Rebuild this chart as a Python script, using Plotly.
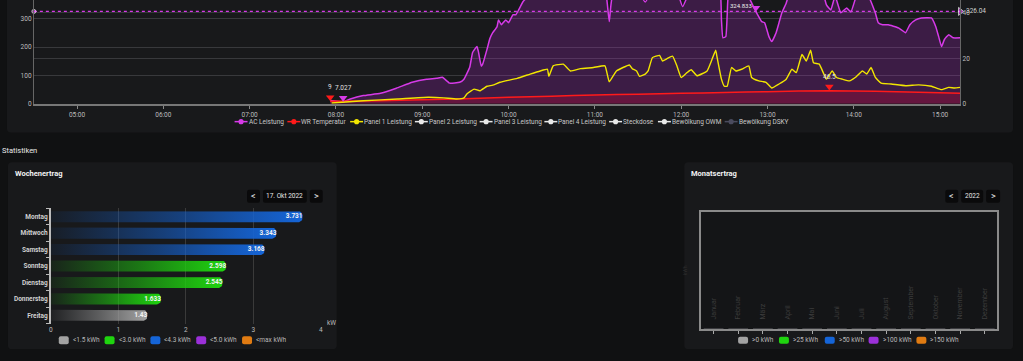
import numpy as np
import plotly.graph_objects as go

W, H = 1023, 361
def X(px): return px / W
def Y(py): return 1 - py / H

FONT = "Roboto, Open Sans, sans-serif"
DAY = "2022-10-17 "
X_START, X_END = "04:30", "15:14"

# ---------------- top chart data ----------------
ac_times = ["07:56","08:05","08:10","08:19","08:31","08:42","08:53","09:03","09:10","09:14",
            "09:19","09:26","09:29","09:33","09:35","09:38","09:39","09:41","09:42","09:45",
            "09:47","09:49","09:52","09:53","09:55","09:58","10:00","10:03","10:05","10:07",
            "10:10","10:20","10:35","10:50","11:05","11:08","11:10","11:12","11:25","11:35",
            "11:45","11:55","12:01","12:08","12:18","12:27","12:28","12:29","12:31","12:32",
            "12:33","12:42","12:52","12:56","12:58","13:01","13:03","13:06","13:08","13:10",
            "13:13","13:15","13:28","13:38","13:41","13:44","13:47","13:51","13:55","13:58",
            "14:03","14:10","14:15","14:17","14:20","14:24","14:31","14:36","14:39","14:43",
            "14:47","14:54","14:57","14:59","15:01","15:03","15:06","15:09","15:14"]
ac_values = [12, 7.027, 17, 29, 37, 55, 76, 87, 90, 94,
             73, 76, 87, 129, 181, 202, 185, 133, 140, 192,
             230, 251, 272, 296, 279, 296, 286, 314, 314, 331,
             360, 410, 430, 445, 420, 380, 290, 375, 440, 359,
             450, 430, 343, 420, 440, 400, 296, 233, 237, 314,
             390, 420, 324.833, 290, 286, 237, 220, 251, 286, 321,
             355, 385, 440, 400, 349, 331, 380, 321, 338, 324,
             395, 380, 320, 286, 279, 279, 268, 251, 279, 296,
             303, 303, 272, 237, 202, 227, 244, 233, 233]

p1_times = ["07:57","08:19","08:43","09:04","09:15","09:24","09:29","09:31","09:36","09:40",
            "09:45","09:49","09:54","10:06","10:15","10:22","10:27","10:28","10:31","10:38",
            "10:43","10:50","10:59","11:07","11:10","11:15","11:24","11:26","11:29","11:31",
            "11:35","11:37","11:40","11:45","11:47","11:50","11:54","11:57","12:00","12:04",
            "12:07","12:11","12:18","12:21","12:24","12:25","12:28","12:30","12:32","12:35",
            "12:38","12:42","12:47","12:49","12:54","12:59","13:03","13:08","13:13","13:17",
            "13:20","13:24","13:27","13:30","13:32","13:36","13:41","13:45","13:48","13:52",
            "13:57","14:01","14:06","14:09","14:12","14:15","14:19","14:26","14:36","14:45",
            "14:54","15:01","15:06","15:10","15:14"]
p1_values = [3, 11, 17, 23, 21, 17, 21, 35, 52, 46,
             62, 66, 76, 90, 105, 116, 122, 97, 134, 140,
             116, 124, 128, 134, 78, 116, 137, 124, 116, 97,
             105, 116, 163, 171, 151, 159, 168, 134, 93, 110,
             120, 99, 116, 151, 189, 163, 87, 62, 62, 128,
             116, 122, 134, 93, 81, 76, 56, 70, 87, 122,
             110, 174, 151, 189, 145, 140, 87, 116, 93, 87,
             81, 93, 116, 105, 128, 93, 73, 70, 64, 67,
             62, 50, 58, 56, 58]

temp_times = ["07:56","08:30","09:00","09:30","10:00","10:30","11:00","11:30",
              "12:00","12:30","13:00","13:43","14:15","14:45","15:14"]
temp_values = [9, 11, 14, 18, 23, 27, 31, 34, 37, 40, 43, 46.5, 44, 41, 37]

ac_average = 326.04
mark_times = ["07:56", "08:05", "12:52", "13:43"]
mark_values = [9, 7.027, 324.833, 46.5]
mark_labels = ["9", "7.027", "324.833", "46.5"]
mark_series = ["temp", "ac", "ac", "temp"]

top_legend_names = ["AC Leistung", "WR Temperatur", "Panel 1 Leistung", "Panel 2 Leistung",
                    "Panel 3 Leistung", "Panel 4 Leistung", "Steckdose", "Bewölkung OWM",
                    "Bewölkung DSKY"]

# ---------------- weekly chart data ----------------
week_days = ["Montag", "Mittwoch", "Samstag", "Sonntag", "Dienstag", "Donnerstag", "Freitag"]
week_kwh = [3.731, 3.343, 3.168, 2.598, 2.545, 1.633, 1.43]
week_date_label = "17. Okt 2022"
week_thresholds = [1.5, 3.0, 4.3, 5.0]
week_legend = ["<1.5 kWh", "<3.0 kWh", "<4.3 kWh", "<5.0 kWh", "<max kWh"]

# ---------------- monthly chart data ----------------
months = ["Januar", "Februar", "März", "April", "Mai", "Juni", "Juli", "August",
          "September", "Oktober", "November", "Dezember"]
month_kwh = [0, 0, 0, 0, 0, 0, 0, 0, 0, 0, 0, 0]
year_label = "2022"
month_legend = [">0 kWh", ">25 kWh", ">50 kWh", ">100 kWh", ">150 kWh"]

# ---------------- styles ----------------
PAGE_BG = "#101112"
PANEL_BG = "#18191b"
GRID = "#38393c"
C_AC = "#d63ae8"
C_TEMP = "#ff1a1a"
C_P1 = "#f2e600"
top_legend_colors = [C_AC, C_TEMP, C_P1, "#e8e8e8", "#e8e8e8", "#e8e8e8", "#e8e8e8",
                     "#e8e8e8", "#4a4b5e"]
level_colors = ["#a3a3a3", "#1fd40f", "#1565d8", "#9b30d9", "#e07b12"]
PAD = 3  # annotation inner padding in px

# top chart geometry
TOP_PLOT_PX = (32, 962, 0, 105)      # left, right, top, bottom (px)
Y_LEFT_PER_PX = 0.2867               # px per unit on the left axis
Y_RIGHT_PER_PX = 2.3                 # px per unit on the right axis
Y_LEFT_MAX = TOP_PLOT_PX[3] / Y_LEFT_PER_PX
PIN_SIZE, PIN_LIFT_PX = 7.5, 4.0
TOP_LABEL_PX = 6                     # centre of a label that would leave the top edge

def t(s):
    return DAY + s

def rgba(hexc, a):
    h = hexc.lstrip("#")
    r, g, b = int(h[0:2], 16), int(h[2:4], 16), int(h[4:6], 16)
    return f"rgba({r},{g},{b},{a})"

fig = go.Figure()

# ---- top chart traces
fig.add_trace(go.Scatter(x=[t(s) for s in ac_times], y=ac_values, mode="lines",
                         line=dict(color=C_AC, width=1.5, shape="spline", smoothing=0.35),
                         fill="tozeroy", fillcolor="rgba(190,40,220,0.22)",
                         xaxis="x", yaxis="y", hoverinfo="skip", showlegend=False))
fig.add_trace(go.Scatter(x=[t(s) for s in temp_times], y=temp_values, mode="lines",
                         line=dict(color=C_TEMP, width=1.5, shape="spline", smoothing=0.4),
                         fill="tozeroy", fillcolor="rgba(230,0,40,0.24)",
                         xaxis="x", yaxis="y", hoverinfo="skip", showlegend=False))
fig.add_trace(go.Scatter(x=[t(s) for s in p1_times], y=p1_values, mode="lines",
                         line=dict(color=C_P1, width=1.4, shape="spline", smoothing=0.35),
                         xaxis="x", yaxis="y", hoverinfo="skip", showlegend=False))
# average mark line
fig.add_trace(go.Scatter(x=[t(X_START), t(ac_times[-1])], y=[ac_average, ac_average],
                         mode="lines+markers", cliponaxis=False,
                         line=dict(color=C_AC, width=1.3, dash="dot"),
                         marker=dict(symbol=["circle", "triangle-right"], size=[4, 7], color=C_AC),
                         xaxis="x", yaxis="y", hoverinfo="skip", showlegend=False))
# empty cloud series on the right axis
for nm in top_legend_names[7:]:
    fig.add_trace(go.Scatter(x=[], y=[], name=nm, xaxis="x", yaxis="y4", showlegend=False))

# mark pins: tip touches the data point
lift = PIN_LIFT_PX / Y_LEFT_PER_PX
fig.add_trace(go.Scatter(x=[t(s) for s in mark_times], y=[v + lift for v in mark_values],
                         mode="markers", cliponaxis=False,
                         marker=dict(symbol="triangle-down", size=PIN_SIZE,
                                     color=[C_TEMP if s == "temp" else C_AC for s in mark_series]),
                         xaxis="x", yaxis="y", hoverinfo="skip", showlegend=False))

annotations = []
for tm, v, lab in zip(mark_times, mark_values, mark_labels):
    if v + lift + 8 / Y_LEFT_PER_PX > Y_LEFT_MAX:
        # label would leave the plot at the top: keep it just inside, beside the pin
        annotations.append(dict(x=t(tm), y=Y_LEFT_MAX - TOP_LABEL_PX / Y_LEFT_PER_PX,
                                xref="x", yref="y", text=lab, showarrow=False,
                                xanchor="right", xshift=-3, yanchor="middle", borderpad=0,
                                font=dict(size=6, color="#ececec", family=FONT)))
    else:
        annotations.append(dict(x=t(tm), y=v, xref="x", yref="y", text=lab, showarrow=False,
                                yanchor="bottom", yshift=8,
                                font=dict(size=6.5, color="#e0e0e0", family=FONT)))
annotations.append(dict(x=t(ac_times[-1]), y=ac_average, xref="x", yref="y", text=f"{ac_average}",
                        showarrow=False, xanchor="left", xshift=4,
                        font=dict(size=6.5, color="#cfcfcf", family=FONT)))

# ---- weekly bars (gradient rounded bars built from the values)
wx_dom = (49, 320); wx_rng = (0, 4)
wy_dom = (210, 328); wy_rng = (6.55, -0.55)
ux = (wx_rng[1] - wx_rng[0]) / (wx_dom[1] - wx_dom[0])
uy = abs(wy_rng[0] - wy_rng[1]) / (wy_dom[1] - wy_dom[0])
HALF_PX, R_PX = 5.6, 4.5

def level_color(v):
    for th, c in zip(week_thresholds, level_colors):
        if v < th:
            return c
    return level_colors[-1]

for i, v in enumerate(week_kwh):
    col = level_color(v)
    hh, rx, ry = HALF_PX * uy, R_PX * ux, R_PX * uy
    xs, ys = [0, v - rx], [i - hh, i - hh]
    for a in np.linspace(-90, 0, 8):
        xs.append(v - rx + rx * np.cos(np.radians(a)))
        ys.append(i - hh + ry + ry * np.sin(np.radians(a)))
    for a in np.linspace(0, 90, 8):
        xs.append(v - rx + rx * np.cos(np.radians(a)))
        ys.append(i + hh - ry + ry * np.sin(np.radians(a)))
    xs += [0, 0]; ys += [i + hh, i - hh]
    fig.add_trace(go.Scatter(x=xs, y=ys, mode="lines", fill="toself",
                             fillgradient=dict(type="horizontal",
                                               colorscale=[[0, rgba(col, 0.06)], [0.5, rgba(col, 0.5)], [1, rgba(col, 1)]]),
                             line=dict(width=0, color="rgba(0,0,0,0)"),
                             xaxis="x2", yaxis="y2", hoverinfo="skip", showlegend=False))
fig.add_trace(go.Scatter(x=week_kwh, y=list(range(len(week_days))), mode="text",
                         text=[f"{v}" for v in week_kwh], textposition="middle left",
                         textfont=dict(size=6.5, color="#f2f2f2", family=FONT, weight="bold"),
                         xaxis="x2", yaxis="y2", hoverinfo="skip", showlegend=False))

# ---- monthly (empty) chart
fig.add_trace(go.Bar(x=months, y=month_kwh, marker_color=level_colors[0],
                     xaxis="x3", yaxis="y3", hoverinfo="skip", showlegend=False))

# ---------------- shapes: panels, buttons, legends ----------------
shapes = []
def rrect(x0, y0, x1, y1, r, fill, line=None, layer="below"):
    rx_, ry_ = r / W, r / H
    a0, a1, b0, b1 = X(x0), X(x1), Y(y1), Y(y0)
    path = (f"M{a0+rx_},{b0} L{a1-rx_},{b0} Q{a1},{b0} {a1},{b0+ry_} L{a1},{b1-ry_} "
            f"Q{a1},{b1} {a1-rx_},{b1} L{a0+rx_},{b1} Q{a0},{b1} {a0},{b1-ry_} "
            f"L{a0},{b0+ry_} Q{a0},{b0} {a0+rx_},{b0} Z")
    shapes.append(dict(type="path", path=path, xref="paper", yref="paper", fillcolor=fill,
                       line=dict(width=0) if line is None else line, layer=layer))

rrect(5, -10, 1015, 134, 4, PANEL_BG)
rrect(6, 164, 336, 353, 4, PANEL_BG)
rrect(685, 164, 1015, 353, 4, PANEL_BG)
rrect(702, 214, 999, 333, 0, "#141517")

def txt(x, y, s, size=6.5, color="#cccccc", xanchor="left", bold=False, angle=0):
    if xanchor == "left":
        x -= PAD
    annotations.append(dict(x=X(x), y=Y(y), xref="paper", yref="paper", text=s, showarrow=False,
                            xanchor=xanchor, yanchor="middle", textangle=angle,
                            font=dict(size=size, color=color, family=FONT,
                                      weight="bold" if bold else "normal")))

# top legend
top_icon_px = [240, 293, 356, 421, 486, 551, 616, 665, 732]
for nm, col, cx in zip(top_legend_names, top_legend_colors, top_icon_px):
    shapes.append(dict(type="line", xref="paper", yref="paper", x0=X(cx - 6.5), x1=X(cx + 6.5),
                       y0=Y(123), y1=Y(123), line=dict(color=col, width=1.5)))
    shapes.append(dict(type="circle", xref="paper", yref="paper", x0=X(cx - 2.6), x1=X(cx + 2.6),
                       y0=Y(125.6), y1=Y(120.4), fillcolor=col, line=dict(width=0)))
    txt(cx + 8.5, 123, nm, size=6.5, color="#c8c8c8")

# section + panel titles
txt(1, 152, "Statistiken", size=7.5, color="#e8e8e8")
txt(14, 175, "Wochenertrag", size=7.5, color="#f2f2f2", bold=True)
txt(693, 175, "Monatsertrag", size=7.5, color="#f2f2f2", bold=True)

# buttons
def button(x0, x1, label, size=6.5):
    rrect(x0, 192, x1, 205, 2, "#0a0a0b", layer="above")
    txt((x0 + x1) / 2, 198.5, label, size=size, color="#e6e6e6", xanchor="center")
button(246, 259, "<", 9)
button(262, 306, week_date_label)
button(309, 322, ">", 9)
button(947, 960, "<", 9)
button(963, 985, year_label)
button(988, 1002, ">", 9)

txt(331, 327, "kW", size=6.5, color="#bbbbbb", xanchor="center")
txt(686, 273, "kWh", size=5, color="#2c2c2c", xanchor="center", angle=-90)

# bottom legends
week_sq = [62, 108, 154, 200, 246]
for lab, col, cx in zip(week_legend, level_colors, week_sq):
    rrect(cx - 5, 340, cx + 5, 348, 2, col, layer="above")
    txt(cx + 10, 344, lab, size=6.5, color="#b8b8b8")
month_sq = [744, 785, 831, 875, 923]
for lab, col, cx in zip(month_legend, level_colors, month_sq):
    rrect(cx - 5, 340.5, cx + 5, 347.5, 2, col, layer="above")
    txt(cx + 10, 344, lab, size=6.5, color="#b8b8b8")

# ---------------- layout ----------------
tickf = dict(size=6.5, color="#bdbdbd", family=FONT)
fig.update_layout(
    width=W, height=H, margin=dict(l=0, r=0, t=0, b=0),
    paper_bgcolor=PAGE_BG, plot_bgcolor="rgba(0,0,0,0)",
    showlegend=False, font=dict(family=FONT),
    shapes=shapes, annotations=annotations,
    xaxis=dict(domain=[X(TOP_PLOT_PX[0]), X(TOP_PLOT_PX[1])], anchor="y", type="date",
               range=[t(X_START), t(X_END)], tick0=t("05:00"), dtick=3600000,
               tickformat="%H:%M", showgrid=False, zeroline=False,
               showline=True, linecolor="#777777", linewidth=2,
               ticks="outside", ticklen=3, tickcolor="#888888", tickfont=tickf),
    yaxis=dict(domain=[Y(TOP_PLOT_PX[3]), 1], anchor="x", range=[0, Y_LEFT_MAX], dtick=100,
               showgrid=True, gridcolor=GRID, gridwidth=1, zeroline=False,
               showline=True, linecolor="#666666", linewidth=1, tickfont=tickf),
    yaxis4=dict(overlaying="y", side="right", anchor="x",
                range=[0, TOP_PLOT_PX[3] / Y_RIGHT_PER_PX], dtick=20,
                showgrid=True, gridcolor=GRID, gridwidth=1, zeroline=False,
                showline=True, linecolor="#666666", linewidth=1, tickfont=tickf),
    xaxis2=dict(domain=[X(wx_dom[0]), X(wx_dom[1])], anchor="y2", range=list(wx_rng), dtick=1,
                showgrid=True, gridcolor="#3a3a3a", gridwidth=1, zeroline=False,
                showline=False, ticks="", tickfont=tickf),
    yaxis2=dict(domain=[Y(wy_dom[1]), Y(wy_dom[0])], anchor="x2", range=list(wy_rng),
                tickmode="array", tickvals=list(range(len(week_days))), ticktext=week_days,
                showgrid=False, zeroline=False, showline=True, linecolor="#bbbbbb", linewidth=1.5,
                ticks="", tickfont=dict(size=6.5, color="#d0d0d0", family=FONT, weight="bold"),
                minor=dict(tickmode="array", tickvals=[k - 0.5 for k in range(len(week_days) + 1)],
                           ticks="outside", ticklen=3, tickcolor="#bbbbbb", showgrid=False)),
    xaxis3=dict(domain=[X(702), X(999)], anchor="y3", type="category", range=[-0.5, 11.5],
                showgrid=False, zeroline=False, showline=True, mirror=True,
                linecolor="#8a8a8a", linewidth=1.5, ticks="outside", ticklen=3, tickcolor="#aaaaaa",
                ticklabelposition="inside", tickangle=-90, ticklabelstandoff=6,
                tickfont=dict(size=7, color="#3c3c3c", family=FONT)),
    yaxis3=dict(domain=[Y(333), Y(214)], anchor="x3", range=[0, 1], showgrid=False,
                zeroline=False, showline=True, mirror=True, linecolor="#8a8a8a", linewidth=1.5,
                showticklabels=False, ticks=""),
)

fig.write_html("out.html")
